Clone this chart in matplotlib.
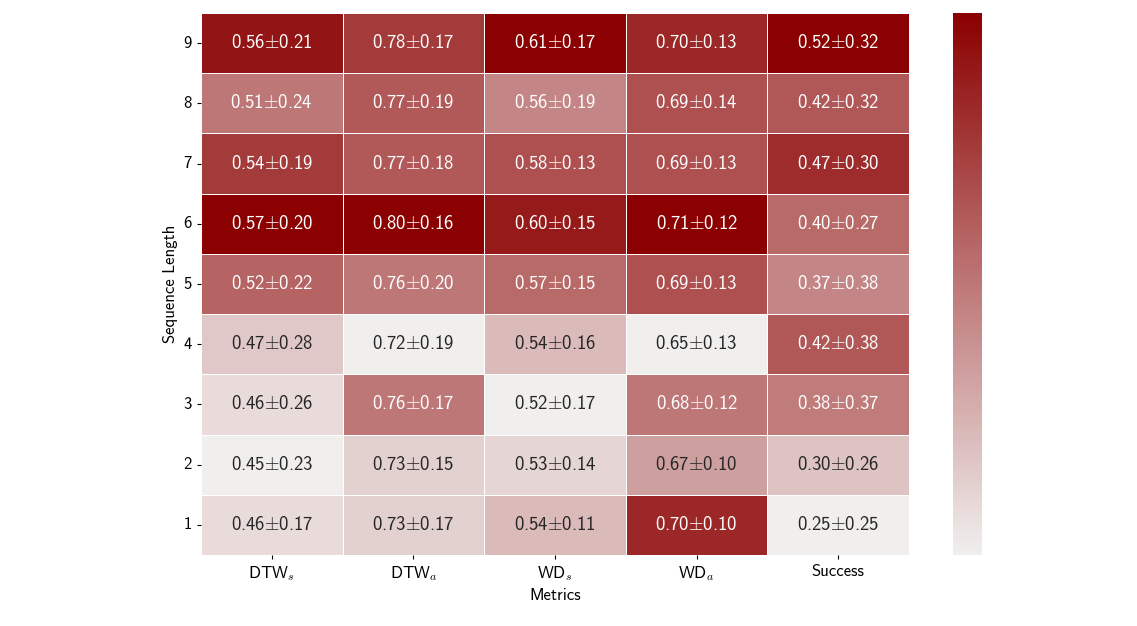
import matplotlib
matplotlib.use("Agg")
import matplotlib.pyplot as plt
from matplotlib.colors import LinearSegmentedColormap
import numpy as np
import seaborn as sns

# data (rows from top: length 9 down to 1)
lengths = [9, 8, 7, 6, 5, 4, 3, 2, 1]
metrics = [r"DTW$_s$", r"DTW$_a$", r"WD$_s$", r"WD$_a$", "Success"]

means = np.array([
    [0.56, 0.78, 0.61, 0.70, 0.52],
    [0.51, 0.77, 0.56, 0.69, 0.42],
    [0.54, 0.77, 0.58, 0.69, 0.47],
    [0.57, 0.80, 0.60, 0.71, 0.40],
    [0.52, 0.76, 0.57, 0.69, 0.37],
    [0.47, 0.72, 0.54, 0.65, 0.42],
    [0.46, 0.76, 0.52, 0.68, 0.38],
    [0.45, 0.73, 0.53, 0.67, 0.30],
    [0.46, 0.73, 0.54, 0.70, 0.25],
])
stds = np.array([
    [0.21, 0.17, 0.17, 0.13, 0.32],
    [0.24, 0.19, 0.19, 0.14, 0.32],
    [0.19, 0.18, 0.13, 0.13, 0.30],
    [0.20, 0.16, 0.15, 0.12, 0.27],
    [0.22, 0.20, 0.15, 0.13, 0.38],
    [0.28, 0.19, 0.16, 0.13, 0.38],
    [0.26, 0.17, 0.17, 0.12, 0.37],
    [0.23, 0.15, 0.14, 0.10, 0.26],
    [0.17, 0.17, 0.11, 0.10, 0.25],
])

plt.rcParams["font.family"] = "cmss10"
plt.rcParams["mathtext.fontset"] = "cm"
plt.rcParams["axes.unicode_minus"] = False

# colour each column on its own scale
norm = (means - means.min(axis=0)) / (means.max(axis=0) - means.min(axis=0))

cmap = LinearSegmentedColormap.from_list("reds", ["#f0efee", "#8b0000"])

fig = plt.figure(figsize=(11.37, 6.26), dpi=100)
ax = fig.add_axes([0.1768, 0.1134, 0.6227, 0.8658])
cax = fig.add_axes([0.8382, 0.1134, 0.0255, 0.8658])

sns.heatmap(norm, ax=ax, cbar_ax=cax, cmap=cmap, vmin=0, vmax=1,
            annot=False, linewidths=0.5, linecolor="white",
            xticklabels=metrics, yticklabels=lengths)

# annotations: white on dark cells, dark on light ones
for i in range(len(lengths)):
    for j in range(len(metrics)):
        col = "white" if norm[i, j] > 0.4 else "#262626"
        ax.text(j + 0.5, i + 0.5, f"{means[i, j]:.2f}$\\pm${stds[i, j]:.2f}",
                ha="center", va="center", fontsize=13.5, color=col)

ax.set_xlabel("Metrics", fontsize=12)
ax.set_ylabel("Sequence Length", fontsize=12)
ax.tick_params(axis="both", labelsize=12, length=3)
ax.set_yticklabels(lengths, rotation=0)
cax.set_yticks([])
cax.tick_params(length=0)

fig.savefig("out.png", dpi=100)
